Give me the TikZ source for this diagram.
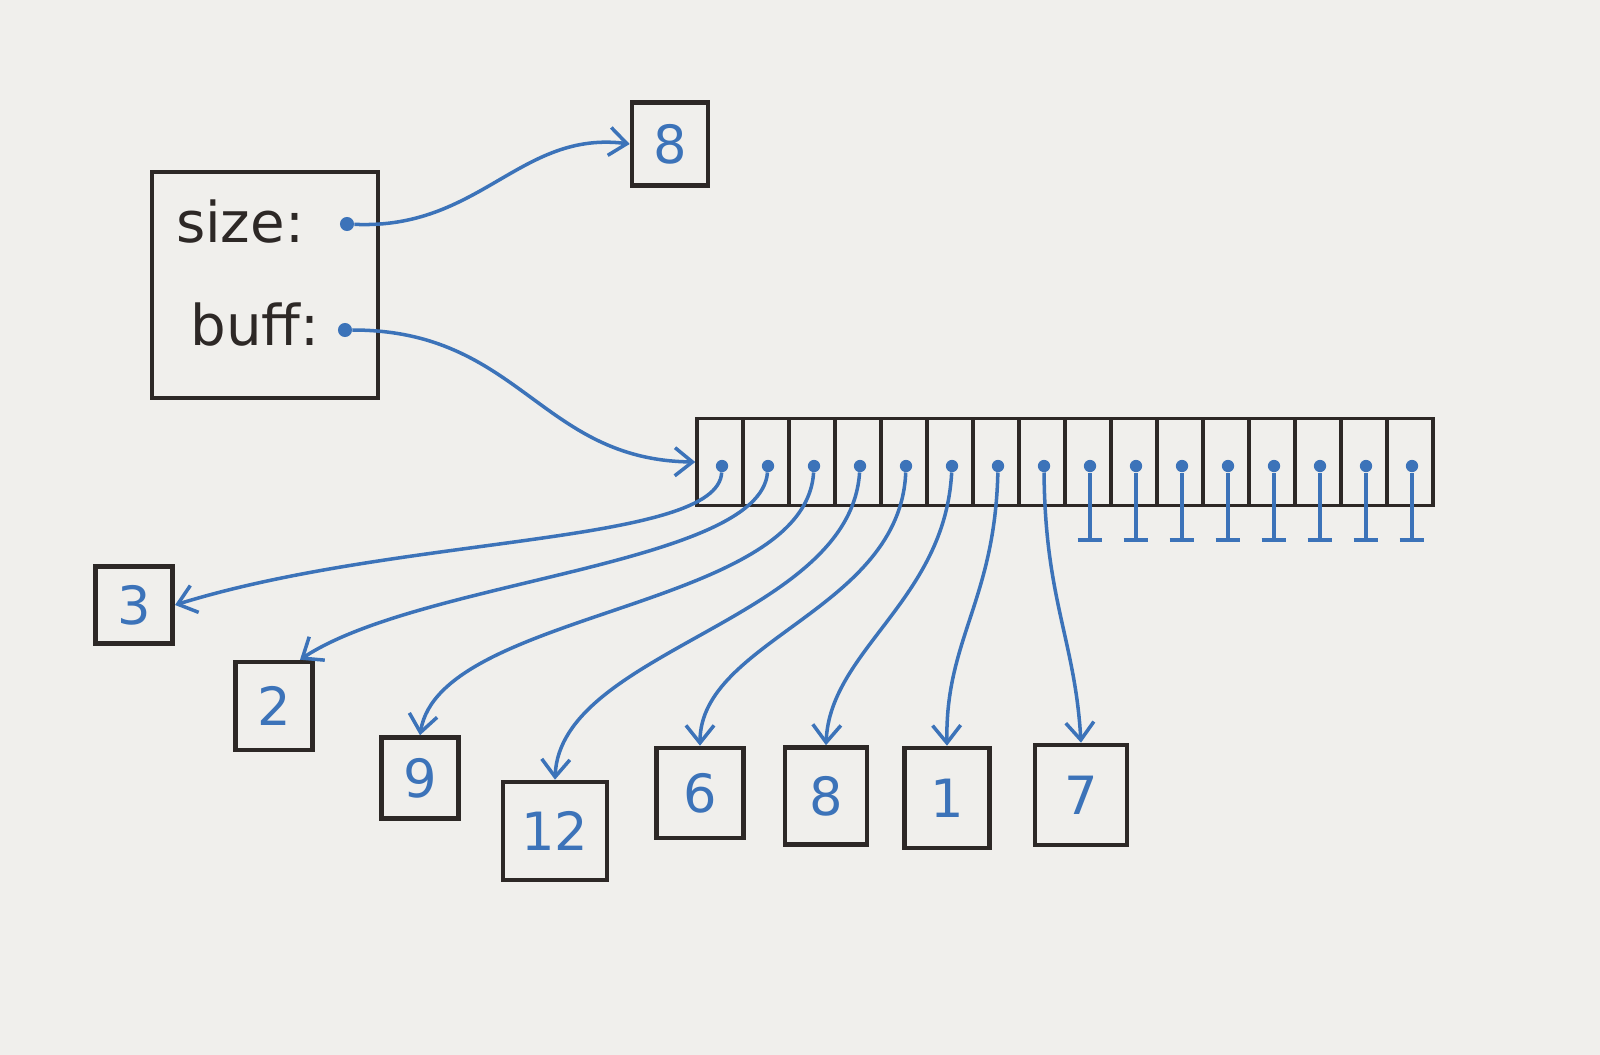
\documentclass[tikz,border=0pt]{standalone}
\usepackage{fontspec}
\setmainfont{DejaVu Sans}
\usetikzlibrary{arrows.meta}
\definecolor{paper}{RGB}{240,239,236}
\definecolor{ink}{RGB}{45,40,38}
\definecolor{pen}{RGB}{60,115,185}
\tikzset{
  x=0.02cm,y=-0.02cm,
  valbox/.style={draw=ink,line width=2.6pt,minimum size=1.55cm,inner sep=0pt,text=pen,font=\fontsize{30}{30}\selectfont},
  cellbox/.style={draw=ink,line width=2pt,minimum width=0.92cm,minimum height=1.74cm,inner sep=0pt},
  ptr/.style={draw=pen,line width=2pt,-{Straight Barb[length=10pt,width=16pt]}},
  dotc/.style={fill=pen,circle,inner sep=0pt,minimum size=8pt},
  lbl/.style={font=\fontsize{32}{32}\selectfont,text=ink}
}
\begin{document}
\begin{tikzpicture}
\fill[paper] (0,0) rectangle (1600,1055);
\useasboundingbox (0,0) rectangle (1600,1055);
% struct
\node[draw=ink,line width=2.6pt,minimum width=4.52cm,minimum height=4.52cm] (st) at (265,285) {};
\node[lbl] (sz) at (240,222) {size:};
\node[lbl] (bf) at (255,325) {buff:};
\node[dotc] (d1) at (347,224) {};
\node[dotc] (d2) at (345,330) {};
% size value
\node[valbox,minimum width=1.52cm,minimum height=1.66cm] (v8) at (670,144) {8};
\draw[ptr] (d1) .. controls (480,230) and (520,130) .. (v8.west);
% array
\foreach \i in {0,...,15}{
  \node[cellbox] (c\i) at ({720+46*\i},462) {};
  \node[dotc,minimum size=7pt] (p\i) at ({722+46*\i},466) {};
}
\draw[ptr] (d2) .. controls (520,330) and (540,460) .. (c0.west);
% null pointers
\foreach \i in {8,...,15}{
  \coordinate (g\i) at ({722+46*\i},540);
  \draw[pen,line width=2pt] (p\i) -- (g\i);
  \draw[pen,line width=2pt] ([xshift=-7pt]g\i) -- ([xshift=7pt]g\i);
}
% value boxes
\node[valbox] (a0) at (134,605) {3};
\node[valbox,minimum height=1.76cm] (a1) at (274,706) {2};
\node[valbox,minimum height=1.62cm] (a2) at (420,778) {9};
\node[valbox,minimum width=2.08cm,minimum height=1.96cm] (a3) at (555,831) {12};
\node[valbox,minimum width=1.74cm,minimum height=1.8cm] (a4) at (700,793) {6};
\node[valbox,minimum width=1.64cm,minimum height=1.94cm] (a5) at (826,796) {8};
\node[valbox,minimum width=1.7cm,minimum height=2cm] (a6) at (947,798) {1};
\node[valbox,minimum width=1.84cm,minimum height=2cm] (a7) at (1081,795) {7};
% pointers
\draw[ptr] (p0) .. controls (718,545) and (400,535) .. (a0.east);
\draw[ptr] (p1) .. controls (760,565) and (420,580) .. ([xshift=-0.3cm]a1.north east);
\draw[ptr] (p2) .. controls (805,610) and (440,610) .. (a2.north);
\draw[ptr] (p3) .. controls (850,620) and (560,650) .. (a3.north);
\draw[ptr] (p4) .. controls (900,610) and (700,640) .. (a4.north);
\draw[ptr] (p5) .. controls (945,600) and (830,650) .. (a5.north);
\draw[ptr] (p6) .. controls (995,600) and (945,640) .. (a6.north);
\draw[ptr] (p7) .. controls (1045,600) and (1075,640) .. (a7.north);
\end{tikzpicture}
\end{document}
